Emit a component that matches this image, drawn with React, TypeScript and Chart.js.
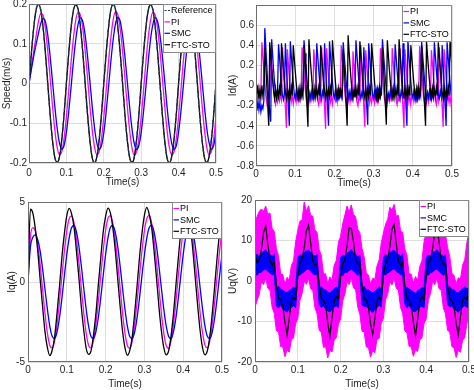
import React, { useEffect, useRef } from "react";
import { Chart, registerables } from "chart.js";
Chart.register(...registerables);

const TXT = "#1f1f1f";
const GRID = "#dedede";
const FRAME = "#6e6e6e";
const FONT = "'Liberation Sans', Arial, Helvetica, sans-serif";
const C_PI = "#ff00ff";
const C_SMC = "#0000ff";
const C_FTC = "#000000";
const C_REF = "#1b3a4b";

const T_END = 0.5;
const X_TICKS = [0, 0.1, 0.2, 0.3, 0.4, 0.5];
const SPEED_TICKS = [-0.2, -0.1, 0, 0.1, 0.2];
const ID_TICKS = [-0.8, -0.6, -0.4, -0.2, 0, 0.2, 0.4, 0.6];
const IQ_TICKS = [-5, 0, 5];
const UQ_TICKS = [-20, -10, 0, 10, 20];

// ---- Speed (m/s), sampled every 0.00625 s ----
const REF_SPEED = [
  0, 0.077, 0.141, 0.185, 0.2, 0.185, 0.141, 0.077, 0, -0.077, -0.141, -0.185, -0.2, -0.185, -0.141, -0.077,
  0, 0.077, 0.141, 0.185, 0.2, 0.185, 0.141, 0.077, 0, -0.077, -0.141, -0.185, -0.2, -0.185, -0.141, -0.077,
  0, 0.077, 0.141, 0.185, 0.2, 0.185, 0.141, 0.077, 0, -0.077, -0.141, -0.185, -0.2, -0.185, -0.141, -0.077,
  0, 0.077, 0.141, 0.185, 0.2, 0.185, 0.141, 0.077, 0, -0.077, -0.141, -0.185, -0.2, -0.185, -0.141, -0.077,
  0, 0.077, 0.141, 0.185, 0.2, 0.185, 0.141, 0.077, 0, -0.077, -0.141, -0.185, -0.2, -0.185, -0.141, -0.077,
  0,
];
const PI_SPEED = [
  0, 0.04, 0.08, 0.118, 0.155, 0.175, 0.172, 0.139, 0.084, 0.017, -0.053, -0.114, -0.159, -0.179, -0.172, -0.139,
  -0.084, -0.017, 0.053, 0.114, 0.159, 0.179, 0.172, 0.139, 0.084, 0.017, -0.053, -0.114, -0.159, -0.179, -0.172, -0.139,
  -0.085, -0.018, 0.052, 0.114, 0.16, 0.18, 0.173, 0.138, 0.083, 0.016, -0.054, -0.115, -0.16, -0.18, -0.172, -0.138,
  -0.084, -0.017, 0.053, 0.115, 0.159, 0.179, 0.172, 0.139, 0.084, 0.017, -0.053, -0.114, -0.159, -0.179, -0.173, -0.139,
  -0.083, -0.016, 0.054, 0.114, 0.159, 0.178, 0.171, 0.139, 0.085, 0.018, -0.052, -0.113, -0.159, -0.179, -0.172, -0.14,
  -0.084,
];
const SMC_SPEED = [
  0, 0.035, 0.068, 0.098, 0.125, 0.15, 0.163, 0.156, 0.123, 0.071, 0.009, -0.055, -0.11, -0.149, -0.165, -0.156,
  -0.123, -0.071, -0.009, 0.055, 0.11, 0.149, 0.165, 0.156, 0.123, 0.071, 0.009, -0.055, -0.11, -0.149, -0.165, -0.156,
  -0.124, -0.072, -0.01, 0.054, 0.11, 0.15, 0.166, 0.157, 0.122, 0.07, 0.008, -0.056, -0.111, -0.15, -0.166, -0.156,
  -0.123, -0.071, -0.009, 0.055, 0.111, 0.149, 0.165, 0.156, 0.123, 0.072, 0.01, -0.055, -0.11, -0.149, -0.165, -0.157,
  -0.122, -0.07, -0.008, 0.056, 0.11, 0.149, 0.164, 0.155, 0.123, 0.071, 0.009, -0.054, -0.11, -0.148, -0.165, -0.156,
  -0.123,
];
const FTC_SPEED = [
  0, 0.074, 0.139, 0.184, 0.199, 0.186, 0.143, 0.079, 0.003, -0.075, -0.14, -0.184, -0.198, -0.186, -0.143, -0.079,
  0.002, 0.076, 0.14, 0.184, 0.198, 0.187, 0.143, 0.08, 0.003, -0.074, -0.14, -0.185, -0.199, -0.186, -0.144, -0.079,
  0.001, 0.075, 0.139, 0.185, 0.199, 0.186, 0.142, 0.079, 0.004, -0.075, -0.139, -0.184, -0.198, -0.187, -0.143, -0.08,
  0.002, 0.076, 0.14, 0.184, 0.198, 0.186, 0.143, 0.08, 0.003, -0.074, -0.14, -0.185, -0.199, -0.186, -0.143, -0.079,
  0.001, 0.075, 0.14, 0.185, 0.199, 0.186, 0.143, 0.079, 0.003, -0.075, -0.14, -0.184, -0.198, -0.186, -0.143, -0.08,
  0.002,
];

// ---- Id (A), sampled every 0.0025 s ----
const PI_ID = [
  0, -0.05, -0.12, -0.06, -0.14, -0.08, 0.43, 0.3, 0.16, 0.03, -0.1, -0.17, -0.09, -0.16, -0.1, 0.35, 0.22, 0.09, -0.04, -0.15, -0.19, -0.1, -0.16, -0.08, -0.15, -0.09, -0.14, 0.38, 0.18, -0.02, -0.22, -0.42, 0.36, 0.22, 0.08, -0.05, -0.16, -0.1, -0.18, -0.09,
  -0.1, -0.16, -0.08, -0.15, -0.07, -0.14, -0.09, 0.38, 0.26, 0.13, 0.0, -0.12, -0.18, -0.1, -0.17, -0.09, -0.15, -0.08, -0.14, 0.36, 0.23, 0.1, -0.03, -0.15, -0.19, -0.1, -0.15, 0.38, 0.18, -0.02, -0.22, -0.43, 0.37, 0.23, 0.09, -0.05, -0.16, -0.1, -0.18, -0.09,
  -0.11, -0.15, -0.07, -0.16, -0.08, -0.13, -0.1, 0.4, 0.27, 0.14, 0.01, -0.11, -0.17, -0.11, -0.16, -0.08, -0.16, -0.09, -0.15, 0.34, 0.21, 0.08, -0.04, -0.16, -0.2, -0.11, -0.14, 0.4, 0.2, -0.01, -0.21, -0.41, 0.35, 0.21, 0.07, -0.06, -0.17, -0.1, -0.17, -0.1,
  -0.1, -0.17, -0.08, -0.14, -0.07, -0.15, -0.09, 0.37, 0.25, 0.12, -0.01, -0.13, -0.18, -0.1, -0.18, -0.1, -0.15, -0.07, -0.16, 0.37, 0.24, 0.11, -0.02, -0.15, -0.19, -0.09, -0.16, 0.37, 0.17, -0.03, -0.23, -0.42, 0.36, 0.22, 0.08, -0.05, -0.16, -0.1, -0.19, -0.09,
  -0.1, -0.16, -0.09, -0.15, -0.08, -0.14, -0.09, 0.39, 0.26, 0.13, 0.0, -0.12, -0.17, -0.1, -0.17, -0.09, -0.16, -0.08, -0.15, 0.35, 0.22, 0.09, -0.03, -0.15, -0.19, -0.1, -0.15, 0.38, 0.19, -0.02, -0.22, -0.41, 0.36, 0.22, 0.08, -0.05, -0.16, -0.1, -0.18, -0.1,
  -0.14,
];
const SMC_ID = [
  -0.18, -0.25, -0.15, -0.24, -0.17, -0.26, -0.2, -0.23, -0.15, 0.57, 0.38, 0.2, 0.02, -0.15, -0.27, -0.36, 0.46, 0.3, 0.15, 0.02, -0.09, -0.13, -0.06, 0.41, 0.28, 0.14, 0.01, -0.1, -0.14, -0.07, 0.42, 0.2, 0.0, -0.2, -0.4, 0.44, 0.3, 0.16, 0.03, -0.08,
  -0.13, -0.06, -0.12, -0.05, -0.13, -0.06, -0.11, -0.05, -0.1, 0.45, 0.32, 0.19, 0.06, -0.06, -0.14, -0.07, -0.13, -0.05, -0.12, -0.06, -0.11, -0.05, 0.42, 0.29, 0.16, 0.03, -0.09, -0.14, -0.06, -0.1, 0.42, 0.2, 0.0, -0.2, -0.4, 0.44, 0.3, 0.16, 0.03, -0.08,
  -0.12, -0.05, -0.13, -0.06, -0.12, -0.05, -0.1, -0.06, -0.11, 0.43, 0.3, 0.18, 0.05, -0.07, -0.13, -0.06, -0.12, -0.05, -0.13, -0.06, -0.1, -0.05, 0.45, 0.31, 0.17, 0.04, -0.08, -0.13, -0.07, -0.11, 0.38, 0.18, -0.01, -0.21, -0.39, 0.42, 0.29, 0.15, 0.02, -0.09,
  -0.13, -0.06, -0.12, -0.05, -0.14, -0.05, -0.11, -0.04, -0.1, 0.46, 0.33, 0.2, 0.07, -0.05, -0.14, -0.08, -0.13, -0.06, -0.11, -0.05, -0.12, -0.06, 0.41, 0.28, 0.15, 0.02, -0.09, -0.14, -0.06, -0.1, 0.42, 0.21, 0.01, -0.19, -0.4, 0.45, 0.31, 0.17, 0.04, -0.08,
  -0.12, -0.06, -0.12, -0.06, -0.13, -0.04, -0.11, -0.05, -0.1, 0.44, 0.31, 0.18, 0.05, -0.06, -0.14, -0.07, -0.12, -0.05, -0.12, -0.06, -0.11, -0.05, 0.43, 0.3, 0.16, 0.03, -0.09, -0.13, -0.06, -0.11, 0.4, 0.19, 0.0, -0.2, -0.4, 0.43, 0.29, 0.16, 0.03, -0.08,
  -0.12,
];
const FTC_ID = [
  0, -0.08, -0.02, -0.13, -0.04, -0.12, 0.0, -0.1, -0.03, 0.38, 0.2, 0.0, -0.2, -0.4, 0.43, 0.3, 0.17, 0.05, -0.06, -0.13, -0.03, -0.12, -0.04, -0.11, -0.02, -0.1, 0.42, 0.3, 0.17, 0.05, -0.07, -0.13, -0.03, -0.12, -0.04, -0.11, -0.02, -0.1, 0.4, 0.28,
  0.15, 0.03, -0.08, -0.13, -0.03, -0.12, -0.02, -0.11, -0.04, 0.4, 0.21, 0.01, -0.2, -0.41, 0.46, 0.32, 0.18, 0.05, -0.06, -0.13, -0.03, -0.12, -0.04, -0.11, -0.02, -0.1, 0.4, 0.28, 0.16, 0.04, -0.07, -0.13, -0.03, -0.12, -0.04, -0.11, -0.02, -0.1, 0.45, 0.31,
  0.17, 0.04, -0.08, -0.12, -0.03, -0.13, -0.02, -0.11, -0.05, 0.36, 0.19, 0.0, -0.2, -0.4, 0.5, 0.34, 0.19, 0.06, -0.06, -0.13, -0.04, -0.12, -0.03, -0.11, -0.02, -0.1, 0.44, 0.31, 0.18, 0.05, -0.07, -0.12, -0.03, -0.13, -0.04, -0.11, -0.02, -0.1, 0.42, 0.29,
  0.16, 0.03, -0.08, -0.13, -0.04, -0.12, -0.02, -0.11, -0.04, 0.38, 0.2, 0.0, -0.19, -0.39, 0.45, 0.31, 0.17, 0.05, -0.06, -0.12, -0.03, -0.12, -0.04, -0.1, -0.02, -0.1, 0.46, 0.32, 0.18, 0.05, -0.07, -0.13, -0.03, -0.12, -0.04, -0.11, -0.03, -0.1, 0.4, 0.28,
  0.15, 0.03, -0.08, -0.13, -0.03, -0.12, -0.02, -0.11, -0.04, 0.39, 0.2, 0.0, -0.2, -0.4, 0.44, 0.3, 0.17, 0.05, -0.06, -0.13, -0.03, -0.12, -0.04, -0.11, -0.02, -0.1, 0.43, 0.3, 0.17, 0.05, -0.07, -0.13, -0.03, -0.12, -0.04, -0.11, -0.02, -0.1, 0.45, 0.31,
  0.17,
];

// ---- Iq (A), sampled every 0.00625 s ----
const PI_IQ = [
  0, 2.8, 3.4, 3.2, 2.4, 1.1, -0.45, -1.95, -3.2, -3.97, -4.13, -3.67, -2.64, -1.22, 0.39, 1.94,
  3.2, 3.97, 4.13, 3.67, 2.64, 1.22, -0.39, -1.94, -3.2, -3.97, -4.13, -3.67, -2.64, -1.22, 0.39, 1.94,
  3.22, 3.98, 4.15, 3.66, 2.62, 1.2, -0.4, -1.95, -3.21, -3.98, -4.14, -3.68, -2.63, -1.21, 0.38, 1.95,
  3.2, 3.96, 4.16, 3.68, 2.65, 1.23, -0.38, -1.93, -3.19, -3.97, -4.15, -3.66, -2.65, -1.22, 0.4, 1.93,
  3.21, 3.97, 4.12, 3.67, 2.63, 1.21, -0.39, -1.94, -3.2, -3.96, -4.12, -3.67, -2.64, -1.23, 0.39, 1.94,
  3.2,
];
const SMC_IQ = [
  0, 2.2, 2.8, 2.95, 2.65, 1.95, 0.85, -0.45, -1.71, -2.77, -3.41, -3.53, -3.11, -2.22, -0.99, 0.39,
  1.71, 2.77, 3.41, 3.53, 3.11, 2.22, 0.99, -0.39, -1.71, -2.77, -3.41, -3.53, -3.11, -2.22, -0.99, 0.39,
  1.72, 2.78, 3.42, 3.54, 3.1, 2.21, 0.98, -0.4, -1.72, -2.78, -3.42, -3.52, -3.12, -2.21, -0.98, 0.4,
  1.7, 2.76, 3.4, 3.55, 3.12, 2.23, 1.0, -0.38, -1.7, -2.76, -3.4, -3.54, -3.1, -2.23, -1.0, 0.38,
  1.71, 2.77, 3.41, 3.52, 3.11, 2.22, 0.99, -0.39, -1.71, -2.77, -3.41, -3.53, -3.11, -2.22, -0.99, 0.39,
  1.71,
];
const FTC_IQ = [
  0, 4.55, 4.3, 3.35, 1.98, 0.18, -1.5, -3.1, -4.1, -4.6, -4.25, -3.4, -1.9, -0.25, 1.58, 3.02,
  4.15, 4.6, 4.24, 3.4, 1.9, 0.25, -1.58, -3.02, -4.15, -4.52, -4.3, -3.33, -1.98, -0.18, 1.5, 3.1,
  4.1, 4.62, 4.3, 3.36, 1.96, 0.2, -1.52, -3.08, -4.12, -4.58, -4.26, -3.38, -1.92, -0.22, 1.56, 3.04,
  4.16, 4.66, 4.22, 3.4, 1.92, 0.24, -1.56, -3.04, -4.1, -4.55, -4.3, -3.35, -1.96, -0.2, 1.52, 3.08,
  4.12, 4.58, 4.28, 3.36, 1.95, 0.2, -1.54, -3.06, -4.14, -4.56, -4.27, -3.37, -1.94, -0.21, 1.55, 3.05,
  4.12,
];

// ---- Uq (V), sampled every 0.005 s: noise-band envelopes and FTC-STO trace ----
const PI_UQ_HIGH = [
  14.5, 16.0, 17.2, 17.8, 17.2, 18.5, 16.5, 16.8, 13.0, 12.2, 8.0, 6.2, 1.8, 1.6, -0.8, 0.9, 0.2, 3.8, 5.0, 9.8,
  12.5, 14.8, 15.0, 19.5, 17.2, 18.6, 16.2, 16.0, 12.6, 12.0, 7.8, 6.3, 1.7, 1.8, -0.6, 1.0, 0.3, 3.9, 5.1, 9.6,
  11.0, 14.2, 16.3, 18.5, 17.0, 18.8, 16.4, 15.9, 12.8, 11.9, 8.0, 6.0, 2.0, 1.5, -0.8, 0.7, 0.4, 3.7, 5.2, 9.4,
  11.8, 14.0, 15.2, 18.2, 17.5, 18.9, 16.0, 16.2, 12.5, 12.0, 7.9, 6.4, 1.8, 1.7, -0.5, 1.1, 0.2, 3.6, 5.0, 9.7,
  12.2, 14.6, 15.4, 18.0, 17.3, 18.7, 16.6, 15.8, 12.9, 11.6, 8.2, 6.1, 1.9, 1.4, -0.7, 0.8, 0.5, 3.9, 5.3, 9.5,
  12.0,
];
const PI_UQ_LOW = [
  -6.5, -4.8, -3.2, -0.2, -0.9, 0.8, -1.8, -2.2, -6.5, -8.0, -12.3, -12.6, -16.2, -16.3, -18.7, -17.0, -17.6, -14.5, -14.1, -10.5,
  -9.3, -4.7, -3.1, -0.1, -0.8, 0.7, -1.9, -2.3, -6.6, -8.1, -12.2, -12.7, -16.4, -16.2, -19.0, -17.1, -17.5, -14.6, -14.0, -10.6,
  -9.4, -4.9, -3.2, -0.3, -0.9, 0.9, -1.7, -2.1, -6.4, -8.2, -12.4, -12.5, -16.3, -16.4, -18.8, -17.2, -17.7, -14.4, -14.2, -10.4,
  -9.2, -4.6, -3.3, -0.2, -1.0, 0.8, -1.8, -2.3, -6.5, -8.0, -12.3, -12.8, -16.1, -16.3, -18.6, -17.0, -17.4, -14.5, -14.1, -10.5,
  -9.3, -4.8, -3.1, -0.1, -0.9, 0.7, -1.9, -2.2, -6.6, -8.1, -12.2, -12.6, -16.2, -16.5, -18.9, -17.1, -17.6, -14.6, -14.0, -10.6,
  -9.0,
];
const SMC_UQ_HIGH = [
  6.2, 6.6, 6.0, 6.9, 7.3, 7.7, 6.9, 6.5, 6.1, 6.6, -1.8, -1.3, -2.1, -2.3, -2.7, -2.9, -2.3, -2.0, -1.4, -1.9,
  5.8, 6.5, 6.1, 7.0, 7.4, 7.6, 7.1, 6.4, 6.2, 6.5, -1.7, -1.4, -2.0, -2.2, -2.8, -3.0, -2.4, -1.9, -1.5, -1.8,
  5.9, 6.3, 6.2, 6.8, 7.2, 7.8, 7.0, 6.6, 6.0, 6.4, -1.9, -1.3, -2.2, -2.1, -2.6, -2.9, -2.5, -2.0, -1.4, -1.9,
  5.7, 6.6, 6.0, 6.9, 7.5, 7.6, 6.9, 6.5, 6.2, 6.6, -1.8, -1.5, -2.0, -2.3, -2.7, -3.1, -2.3, -2.1, -1.5, -1.8,
  5.8, 6.4, 6.1, 7.0, 7.3, 7.7, 7.0, 6.4, 6.1, 6.5, -1.7, -1.4, -2.1, -2.2, -2.8, -2.9, -2.4, -1.9, -1.4, -1.9,
  -1.7,
];
const SMC_UQ_LOW = [
  1.9, 1.4, 2.1, 2.2, 2.7, 2.9, 2.4, 2.0, 1.5, 1.9, -6.2, -6.6, -6.0, -6.9, -7.3, -7.7, -6.9, -6.5, -6.1, -6.6,
  1.7, 1.4, 2.0, 2.3, 2.8, 3.0, 2.4, 1.9, 1.5, 1.8, -5.8, -6.5, -6.1, -7.0, -7.4, -7.6, -7.1, -6.4, -6.2, -6.5,
  1.9, 1.3, 2.2, 2.1, 2.6, 2.9, 2.5, 2.0, 1.4, 1.9, -5.9, -6.3, -6.2, -6.8, -7.2, -7.8, -7.0, -6.6, -6.0, -6.4,
  1.8, 1.5, 2.0, 2.3, 2.7, 3.1, 2.3, 2.1, 1.5, 1.8, -5.7, -6.6, -6.0, -6.9, -7.5, -7.6, -6.9, -6.5, -6.2, -6.6,
  1.7, 1.4, 2.1, 2.2, 2.8, 2.9, 2.4, 1.9, 1.4, 1.9, -5.8, -6.4, -6.1, -7.0, -7.3, -7.7, -7.0, -6.4, -6.1, -6.5,
  -6.3,
];
const FTC_UQ = [
  6.5, 4.5, 5.2, 7.8, 12.0, 13.6, 9.0, 5.2, 3.8, 4.6, -1.0, -4.2, -4.6, -6.2, -10.2, -13.4, -9.2, -4.8, -3.9, -4.6,
  1.0, 4.3, 5.4, 8.2, 12.4, 13.8, 9.4, 5.0, 3.9, 4.4, -1.0, -4.3, -4.8, -6.0, -10.4, -13.6, -9.0, -5.0, -3.8, -4.5,
  0.8, 4.4, 5.1, 8.6, 13.2, 13.0, 9.8, 5.3, 4.1, 4.5, -0.8, -4.1, -4.7, -6.4, -10.6, -13.2, -9.3, -4.9, -4.0, -4.4,
  1.1, 4.2, 5.5, 8.4, 12.8, 13.9, 9.2, 5.1, 3.8, 4.6, -0.9, -4.4, -4.6, -6.1, -10.1, -13.5, -9.4, -5.1, -3.9, -4.6,
  0.9, 4.5, 5.3, 8.0, 12.2, 13.5, 9.6, 5.2, 4.0, 4.3, -1.1, -4.2, -4.8, -6.3, -10.5, -13.3, -8.9, -4.8, -4.0, -4.5,
  -2.0,
];

// values are evenly spaced from t = 0 to t = T_END
const toXY = (vals: number[]) =>
  vals.map((v, i) => ({ x: (i * T_END) / (vals.length - 1), y: v }));

type LegendItem = { label: string; color: string; dash?: number[] };

function frameLegendPlugin(items: LegendItem[]) {
  return {
    id: "frameLegend",
    afterDraw(chart: any) {
      const { ctx, chartArea: a } = chart;
      ctx.save();
      ctx.strokeStyle = FRAME;
      ctx.lineWidth = 1;
      ctx.strokeRect(a.left + 0.5, a.top + 0.5, a.right - a.left - 1, a.bottom - a.top - 1);

      ctx.font = `9px ${FONT}`;
      const tw = Math.max(...items.map((it) => ctx.measureText(it.label).width));
      const rowH = 11.4;
      const w = Math.round(7 + tw + 3);
      const h = Math.round(items.length * rowH + 2);
      const x = Math.round(a.right) - w - 0.5;
      const y = Math.round(a.top) + 0.5;
      ctx.fillStyle = "#ffffff";
      ctx.fillRect(x, y, w, h);
      ctx.strokeStyle = "#8a8a8a";
      ctx.strokeRect(x, y, w, h);
      items.forEach((it, k) => {
        const cy = y + 6 + k * rowH;
        ctx.strokeStyle = it.color;
        ctx.lineWidth = 1.2;
        ctx.setLineDash(it.dash || []);
        ctx.beginPath();
        ctx.moveTo(x + 1, cy);
        ctx.lineTo(x + 6.5, cy);
        ctx.stroke();
        ctx.setLineDash([]);
        ctx.fillStyle = "#000000";
        ctx.textBaseline = "middle";
        ctx.textAlign = "left";
        ctx.fillText(it.label, x + 7.5, cy + 0.5);
      });
      ctx.restore();
    },
  };
}

type PanelOpts = {
  datasets: any[];
  yMin: number;
  yMax: number;
  yTicks: number[];
  yTitle: string;
  pad: { left: number; right: number; top: number; bottom: number };
  yW: number;
  xH: number;
  yTitlePad: number;
  xTitlePad: number;
  yTickPad: number;
  xTickPad: number;
  legend: LegendItem[];
};

function buildConfig(p: PanelOpts): any {
  return {
    type: "line",
    data: { datasets: p.datasets },
    options: {
      responsive: false,
      animation: false,
      devicePixelRatio: 1,
      events: [],
      layout: { padding: p.pad },
      elements: { point: { radius: 0 } },
      plugins: { legend: { display: false }, tooltip: { enabled: false } },
      scales: {
        x: {
          type: "linear",
          min: 0,
          max: T_END,
          afterBuildTicks: (s: any) => {
            s.ticks = X_TICKS.map((v) => ({ value: v }));
          },
          afterFit: (s: any) => {
            s.height = p.xH;
            s.paddingLeft = 0;
            s.paddingRight = 0;
          },
          grid: { color: GRID, drawTicks: false, lineWidth: 1 },
          border: { display: false },
          ticks: {
            padding: p.xTickPad,
            color: TXT,
            font: { family: FONT, size: 10 },
            maxRotation: 0,
            autoSkip: false,
            callback: (v: any) => String(v),
          },
          title: {
            display: true,
            text: "Time(s)",
            color: TXT,
            font: { family: FONT, size: 10 },
            padding: { top: 0, bottom: p.xTitlePad },
          },
        },
        y: {
          type: "linear",
          min: p.yMin,
          max: p.yMax,
          afterBuildTicks: (s: any) => {
            s.ticks = p.yTicks.map((v) => ({ value: v }));
          },
          afterFit: (s: any) => {
            s.width = p.yW;
            s.paddingTop = 0;
            s.paddingBottom = 0;
          },
          grid: { color: GRID, drawTicks: false, lineWidth: 1 },
          border: { display: false },
          ticks: {
            padding: p.yTickPad,
            color: TXT,
            font: { family: FONT, size: 10 },
            autoSkip: false,
            callback: (v: any) => String(v),
          },
          title: {
            display: true,
            text: p.yTitle,
            color: TXT,
            font: { family: FONT, size: 10 },
            padding: { top: p.yTitlePad, bottom: 0 },
          },
        },
      },
    },
    plugins: [frameLegendPlugin(p.legend)],
  };
}

const line = (label: string, vals: number[], color: string, width: number, order: number, smooth: boolean, extra: any = {}) => ({
  label,
  data: toXY(vals),
  borderColor: color,
  backgroundColor: color,
  borderWidth: width,
  pointRadius: 0,
  fill: false,
  order,
  ...(smooth ? { cubicInterpolationMode: "monotone" } : { tension: 0 }),
  ...extra,
});

const LEG3: LegendItem[] = [
  { label: "PI", color: C_PI },
  { label: "SMC", color: C_SMC },
  { label: "FTC-STO", color: C_FTC },
];

type Spec = { left: number; top: number; w: number; h: number; make: () => any };

const PANELS: Spec[] = [
  {
    left: 0, top: 0, w: 237, h: 195,
    make: () =>
      buildConfig({
        datasets: [
          line("Reference", REF_SPEED, C_REF, 1.3, 0, true, { borderDash: [3, 2] }),
          line("FTC-STO", FTC_SPEED, C_FTC, 1.3, 1, true),
          line("SMC", SMC_SPEED, C_SMC, 1.3, 2, true),
          line("PI", PI_SPEED, C_PI, 1.3, 3, true),
        ],
        yMin: -0.2, yMax: 0.2, yTicks: SPEED_TICKS, yTitle: "Speed(m/s)",
        pad: { left: 0, right: 21, top: 4, bottom: 0 },
        yW: 29, xH: 32, yTitlePad: 1.5, xTitlePad: 7, yTickPad: 2, xTickPad: 4,
        legend: [{ label: "Reference", color: C_REF, dash: [2, 1.5] }, ...LEG3],
      }),
  },
  {
    left: 222, top: 0, w: 252, h: 195,
    make: () =>
      buildConfig({
        datasets: [
          line("FTC-STO", FTC_ID, C_FTC, 1.3, 0, false),
          line("SMC", SMC_ID, C_SMC, 1.3, 1, false),
          line("PI", PI_ID, C_PI, 1.3, 2, false),
        ],
        yMin: -0.8, yMax: 0.8, yTicks: ID_TICKS, yTitle: "Id(A)",
        pad: { left: 0, right: 22, top: 5, bottom: 0 },
        yW: 34, xH: 29, yTitlePad: 5, xTitlePad: 6, yTickPad: 2, xTickPad: 2,
        legend: LEG3,
      }),
  },
  {
    left: 0, top: 195, w: 237, h: 195,
    make: () =>
      buildConfig({
        datasets: [
          line("FTC-STO", FTC_IQ, C_FTC, 1.3, 0, true),
          line("SMC", SMC_IQ, C_SMC, 1.3, 1, true),
          line("PI", PI_IQ, C_PI, 1.3, 2, true),
        ],
        yMin: -5, yMax: 5, yTicks: IQ_TICKS, yTitle: "Iq(A)",
        pad: { left: 0, right: 15, top: 7, bottom: 0 },
        yW: 28, xH: 28, yTitlePad: 6.5, xTitlePad: 0, yTickPad: 3, xTickPad: 2,
        legend: LEG3,
      }),
  },
  {
    left: 222, top: 195, w: 252, h: 195,
    make: () =>
      buildConfig({
        datasets: [
          line("PI high", PI_UQ_HIGH, C_PI, 1, 2, false),
          line("PI", PI_UQ_LOW, C_PI, 1, 2, false, { fill: "-1", backgroundColor: C_PI }),
          line("SMC high", SMC_UQ_HIGH, C_SMC, 1, 1, false),
          line("SMC", SMC_UQ_LOW, C_SMC, 1, 1, false, { fill: "-1", backgroundColor: C_SMC }),
          line("FTC-STO", FTC_UQ, C_FTC, 1.2, 0, false),
        ],
        yMin: -20, yMax: 20, yTicks: UQ_TICKS, yTitle: "Uq(V)",
        pad: { left: 0, right: 5, top: 5, bottom: 0 },
        yW: 33, xH: 28, yTitlePad: 5, xTitlePad: 0, yTickPad: 3, xTickPad: 2,
        legend: LEG3,
      }),
  },
];

function Panel({ spec }: { spec: Spec }) {
  const ref = useRef<HTMLCanvasElement>(null);
  useEffect(() => {
    const chart = new Chart(ref.current as HTMLCanvasElement, spec.make());
    return () => chart.destroy();
  }, [spec]);
  return (
    <canvas
      ref={ref}
      width={spec.w}
      height={spec.h}
      style={{ position: "absolute", left: spec.left, top: spec.top, width: spec.w, height: spec.h }}
    />
  );
}

export default function App() {
  return (
    <div style={{ position: "absolute", left: 0, top: 0, width: 474, height: 390, background: "#ffffff", overflow: "hidden" }}>
      {PANELS.map((s, i) => (
        <Panel key={i} spec={s} />
      ))}
    </div>
  );
}
